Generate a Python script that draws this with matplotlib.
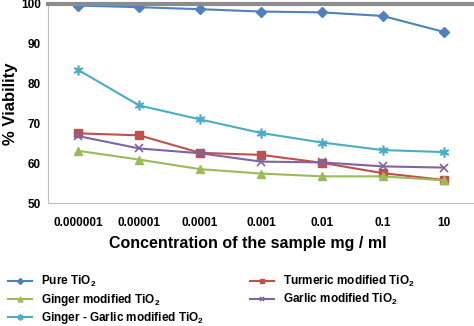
import numpy as np
import matplotlib
matplotlib.use('Agg')
import matplotlib.pyplot as plt

plt.rcParams['font.family'] = ['Liberation Sans', 'DejaVu Sans']
plt.rcParams['font.weight'] = 'bold'
plt.rcParams['mathtext.fontset'] = 'custom'
plt.rcParams['mathtext.bf'] = 'Liberation Sans:bold'
plt.rcParams['mathtext.rm'] = 'Liberation Sans:bold'

conc = ['0.000001', '0.00001', '0.0001', '0.001', '0.01', '0.1', '10']

pure = [99.6, 99.2, 98.7, 98.1, 97.9, 97.0, 93.0]
turmeric = [67.5, 67.0, 62.6, 62.1, 60.1, 57.5, 55.8]
ginger = [63.1, 60.9, 58.5, 57.4, 56.7, 56.7, 55.7]
garlic = [66.8, 63.7, 62.5, 60.4, 60.2, 59.2, 58.9]
ginger_garlic = [83.4, 74.5, 71.0, 67.6, 65.2, 63.3, 62.8]

fig = plt.figure(figsize=(4.74, 3.26), dpi=100)
ax = fig.add_axes([48/474, 1-203/326, 1-48/474, 199/326])

x = np.arange(len(conc))
l_pure, = ax.plot(x, pure, color='#4F81BD', marker='D', ms=5, lw=1.5, label=r'Pure TiO$_\mathbf{2}$')
l_gg, = ax.plot(x, ginger_garlic, color='#4BACC6', marker=(6, 2, 0), ms=7, mew=1.2, lw=1.5,
                label=r'Ginger - Garlic modified TiO$_\mathbf{2}$')
l_tur, = ax.plot(x, turmeric, color='#C0504D', marker='s', ms=6, lw=1.5, label=r'Turmeric modified TiO$_\mathbf{2}$')
l_gar, = ax.plot(x, garlic, color='#8064A2', marker='x', ms=6, mew=1.2, lw=1.5, label=r'Garlic modified TiO$_\mathbf{2}$')
l_gin, = ax.plot(x, ginger, color='#9BBB59', marker='^', ms=6, lw=1.5, label=r'Ginger modified TiO$_\mathbf{2}$')

ax.set_xlim(-0.5, len(conc) - 0.5)
ax.set_ylim(50, 100)
ax.set_yticks([50, 60, 70, 80, 90, 100])
ax.set_xticks(x)
ax.set_xticklabels(conc)
ax.tick_params(length=0, labelsize=8.5, pad=5)
ax.tick_params(axis='x', pad=10)
for s in ['left', 'bottom']:
    ax.spines[s].set_color('#BFBFBF')
ax.spines['right'].set_visible(False)
ax.spines['top'].set_color('#8C8C8C')
ax.spines['top'].set_linewidth(3)

ax.set_xlabel('Concentration of the sample mg / ml', fontsize=11.5, fontweight='bold', labelpad=5)
ax.xaxis.label.set_x(0.47)
ax.set_ylabel('% Viability', fontsize=12, fontweight='bold', labelpad=2)

fig.legend([l_pure, l_gin, l_gg, l_tur, l_gar],
           [h.get_label() for h in [l_pure, l_gin, l_gg, l_tur, l_gar]],
           ncol=2, loc='upper left', bbox_to_anchor=(0.0, 1-266/326), frameon=False,
           fontsize=8.5, handlelength=2.0, handletextpad=0.8, columnspacing=3.9,
           labelspacing=0.2, markerscale=0.6, borderaxespad=0.3)

fig.savefig('out.png', dpi=100)
